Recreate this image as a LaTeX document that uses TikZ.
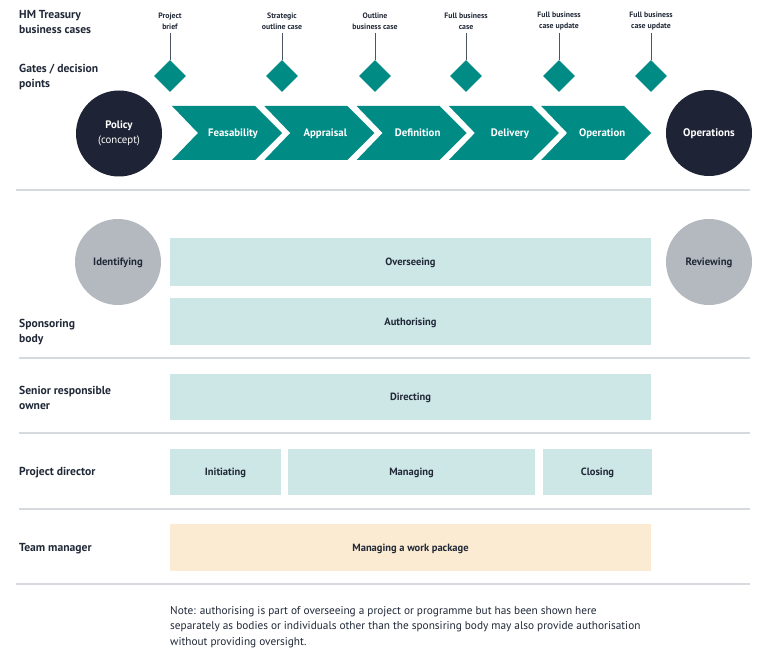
\documentclass[tikz,border=0pt]{standalone}
\usepackage{fontspec}
\setmainfont{PT Sans}
\usetikzlibrary{positioning,shapes.geometric}
\definecolor{HmTeal}{RGB}{0,139,133}
\definecolor{HmNavy}{RGB}{30,35,53}
\definecolor{HmGrey}{RGB}{180,185,192}
\definecolor{HmPale}{RGB}{205,230,230}
\definecolor{HmPeach}{RGB}{252,235,211}
\definecolor{HmText}{RGB}{33,41,56}
\definecolor{HmRule}{RGB}{214,218,222}
\tikzset{
  rowlabel/.style={anchor=west,align=left,inner sep=0pt,text=HmText,font=\fontsize{11.6}{15.2}\selectfont\bfseries},
  gatelabel/.style={align=center,text=HmText,font=\fontsize{7.8}{10.8}\selectfont\bfseries},
  gate/.style={diamond,fill=HmTeal,minimum width=32,minimum height=32,inner sep=0pt},
  stagebig/.style={circle,fill=HmNavy,minimum size=86,inner sep=0pt,text=white,align=center,font=\fontsize{10.8}{14.5}\selectfont},
  stagegrey/.style={circle,fill=HmGrey,minimum size=86,inner sep=0pt,text=HmText,text height=0.8em,text depth=0.1em,font=\fontsize{10.7}{14}\selectfont\bfseries},
  phase/.style={text=white,text height=0.8em,text depth=0.1em,font=\fontsize{10.8}{12}\selectfont\bfseries},
  rolebox/.style={fill=HmPale,inner sep=0pt,text=HmText,text height=0.8em,text depth=0.1em,font=\fontsize{10.5}{12}\selectfont\bfseries},
  rule/.style={HmRule,line width=1.5pt}
}
\begin{document}
\begin{tikzpicture}[x=1pt,y=-1pt]
    \useasboundingbox[fill=white] (0,0) rectangle (768,663);
    % left column
    \node[rowlabel] (treasury) at (19,22) {HM Treasury\\business cases};
    \node[rowlabel] (gates) at (19,77) {Gates / decision\\points};
    \node[rowlabel] (sponsor) at (19,332) {Sponsoring\\body};
    \node[rowlabel] (senior) at (19,398) {Senior responsible\\owner};
    \node[rowlabel,text height=0.8em,text depth=0.1em] (director) at (19,472) {Project director};
    \node[rowlabel,text height=0.8em,text depth=0.1em] (team) at (19,548) {Team manager};
    % business cases and gates
    \foreach \x/\txt [count=\i] in {170/{Project\\brief},282/{Strategic\\outline case},375/{Outline\\business case},
        466/{Full business\\case},559/{Full business\\case update},651/{Full business\\case update}}{
      \node[gatelabel] (case\i) at (\x,21) {\txt};
      \node[gate] (gate\i) at (\x,76) {};
      \draw[HmText!80,line width=0.9pt] (case\i.south) -- (gate\i.north);
    }
    % stages
    \node[stagebig] (policy) at (119,133.5) {\textbf{Policy}\\(concept)};
    \foreach \txt [count=\i] in {Feasability,Appraisal,Definition,Delivery,Operation}{
      \pgfmathsetmacro{\xl}{172+92.3*(\i-1)}
      \fill[HmTeal] (\xl,106) -- ++(83,0) -- ++(27,27) -- ++(-27,27) -- ++(-83,0) -- ++(26,-27) -- cycle;
      \node[phase] (phase\i) at (\xl+61,133) {\txt};
    }
    \node[stagebig,text height=0.8em,text depth=0.1em,font=\fontsize{11}{14}\selectfont\bfseries] (operations) at (709,133) {Operations};
    \draw[rule] (16,190) -- (750,190);
    % roles
    \node[stagegrey] (identify) at (118,262) {Identifying};
    \node[stagegrey] (review) at (709,262) {Reviewing};
    \node[rolebox,minimum width=481,minimum height=48] (oversee) at (410.5,262) {Overseeing};
    \node[rolebox,minimum width=481,minimum height=47] (authorise) at (410.5,321.5) {Authorising};
    \draw[rule] (19,358) -- (750,358);
    \node[rolebox,minimum width=481,minimum height=46] (direct) at (410.5,397) {Directing};
    \draw[rule] (19,433) -- (750,433);
    \node[rolebox,minimum width=111,minimum height=46] (initiate) at (225.5,472) {Initiating};
    \node[rolebox,minimum width=247,minimum height=46] (manage) at (411.5,472) {Managing};
    \node[rolebox,minimum width=109,minimum height=46] (close) at (597.5,472) {Closing};
    \draw[rule] (19,509) -- (750,509);
    \node[rolebox,fill=HmPeach,minimum width=481,minimum height=47] (workpkg) at (410.5,547.5) {Managing a work package};
    \draw[rule] (16,584) -- (750,584);
    % note
    \node[anchor=west,align=left,inner sep=0pt,text=HmText,font=\fontsize{11.3}{15.5}\selectfont] (note) at (170,627)
      {Note: authorising is part of overseeing a project or programme but has been shown here\\
       separately as bodies or individuals other than the sponsiring body may also provide authorisation\\
       without providing oversight.};
\end{tikzpicture}
\end{document}
